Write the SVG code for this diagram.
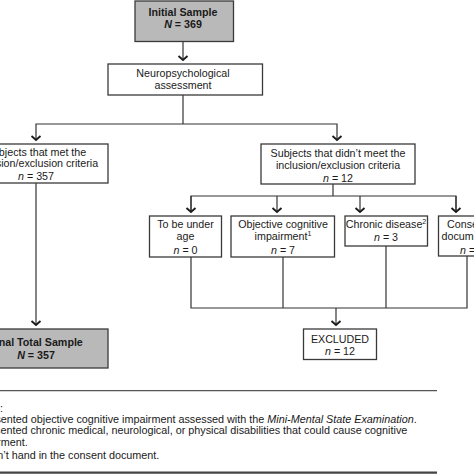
<svg xmlns="http://www.w3.org/2000/svg" width="474" height="474" viewBox="0 0 474 474">
<defs>
<style>
.box{fill:#ffffff;stroke:#3a3a3a;stroke-width:1.3}
.gbox{fill:#b9b9b9;stroke:#3a3a3a;stroke-width:1.3}
.t{font-family:"Liberation Sans",Arial,sans-serif;font-size:10.7px;fill:#1a1a1a;text-anchor:middle}
.b{font-weight:bold}
.fn{font-family:"Liberation Sans",Arial,sans-serif;font-size:10.8px;fill:#1a1a1a;text-anchor:end}
.c{fill:none;stroke:#333333;stroke-width:1.2}
.rule{stroke:#555555;stroke-width:1.3}
</style>
<marker id="arr" markerUnits="userSpaceOnUse" markerWidth="12" markerHeight="12" viewBox="-6 -6 12 12" refX="0" refY="0" orient="auto">
<path d="M-4,-4.5 L0,0 L-4,4.5" fill="none" stroke="#1a1a1a" stroke-width="1.8"/>
</marker>
</defs>

<g id="connectors">
<line class="c" x1="183" y1="41.5" x2="183" y2="60" marker-end="url(#arr)"/>
<polyline class="c" points="183,95 183,124"/>
<polyline class="c" points="183,124 36,124 36,140" marker-end="url(#arr)"/>
<polyline class="c" points="183,124 337,124 337,140" marker-end="url(#arr)"/>
<line class="c" x1="36" y1="183" x2="36" y2="325" marker-end="url(#arr)"/>
<polyline class="c" points="333,184 333,196"/>
<polyline class="c" points="191,212 191,196 456,196 456,212"/>
<line class="c" x1="191" y1="196" x2="191" y2="212" marker-end="url(#arr)"/>
<line class="c" x1="277" y1="196" x2="277" y2="212" marker-end="url(#arr)"/>
<line class="c" x1="360" y1="196" x2="360" y2="212" marker-end="url(#arr)"/>
<line class="c" x1="456" y1="196" x2="456" y2="212" marker-end="url(#arr)"/>
<polyline class="c" points="191,257 191,308 467,308 467,256"/>
<line class="c" x1="283" y1="257" x2="283" y2="308"/>
<line class="c" x1="386" y1="246" x2="386" y2="308"/>
<line class="c" x1="336" y1="308" x2="336" y2="325" marker-end="url(#arr)"/>
</g>

<g id="initial">
<rect class="gbox" x="135" y="1" width="98.5" height="40.5"/>
<text class="t b" x="183" y="15.5">Initial Sample</text>
<text class="t b" x="183" y="27.5"><tspan font-style="italic">N</tspan> = 369</text>
</g>

<g id="neuro">
<rect class="box" x="108" y="64" width="154.5" height="31"/>
<text class="t" x="183" y="77">Neuropsychological</text>
<text class="t" x="183" y="89">assessment</text>
</g>

<g id="met">
<rect class="box" x="-36" y="144" width="144" height="39"/>
<text class="t" x="36" y="155.5">Subjects that met the</text>
<text class="t" x="36" y="166.5">inclusion/exclusion criteria</text>
<text class="t" x="36" y="179.5"><tspan font-style="italic">n</tspan> = 357</text>
</g>

<g id="notmet">
<rect class="box" x="261" y="144" width="154" height="40"/>
<text class="t" x="338" y="157">Subjects that didn’t meet the</text>
<text class="t" x="338" y="168.5">inclusion/exclusion criteria</text>
<text class="t" x="338" y="181.5"><tspan font-style="italic">n</tspan> = 12</text>
</g>

<g id="underage">
<rect class="box" x="149.5" y="216" width="72" height="41"/>
<text class="t" x="185.5" y="227.5">To be under</text>
<text class="t" x="185.5" y="240">age</text>
<text class="t" x="185.5" y="253.5"><tspan font-style="italic">n</tspan> = 0</text>
</g>

<g id="cognitive">
<rect class="box" x="231" y="216" width="103.5" height="41"/>
<text class="t" x="283" y="227.5">Objective cognitive</text>
<text class="t" x="283" y="240">impairment<tspan font-size="7" dy="-4">1</tspan></text>
<text class="t" x="283" y="253.5"><tspan font-style="italic">n</tspan> = 7</text>
</g>

<g id="chronic">
<rect class="box" x="345" y="216" width="82.5" height="30"/>
<text class="t" x="386" y="227.5">Chronic disease<tspan font-size="7" dy="-4">2</tspan></text>
<text class="t" x="386" y="240.5"><tspan font-style="italic">n</tspan> = 3</text>
</g>

<g id="consent">
<rect class="box" x="438.5" y="216" width="72" height="40"/>
<text class="t" x="467" y="227.5">Consent</text>
<text class="t" x="467" y="240">document<tspan font-size="7" dy="-4">3</tspan></text>
<text class="t" x="472" y="253.5"><tspan font-style="italic">n</tspan> = 2</text>
</g>

<g id="excluded">
<rect class="box" x="303.5" y="329" width="73" height="30.5"/>
<text class="t" x="340" y="343">EXCLUDED</text>
<text class="t" x="340" y="355"><tspan font-style="italic">n</tspan> = 12</text>
</g>

<g id="final">
<rect class="gbox" x="-36" y="329" width="144" height="39"/>
<text class="t b" x="36" y="346.3">Final Total Sample</text>
<text class="t b" x="36" y="358.5"><tspan font-style="italic">N</tspan> = 357</text>
</g>

<g id="footnote">
<line class="rule" x1="0" y1="390.7" x2="437" y2="390.7"/>
<text class="fn" x="3" y="412">Note:</text>
<text class="fn" x="416.7" y="423.3"><tspan font-size="7" dy="-4">1</tspan><tspan dy="4">Presented objective cognitive impairment assessed with the </tspan><tspan font-style="italic">Mini-Mental State Examination</tspan>.</text>
<text class="fn" x="407.3" y="434.3"><tspan font-size="7" dy="-4">2</tspan><tspan dy="4">Presented chronic medical, neurological, or physical disabilities that could cause cognitive</tspan></text>
<text class="fn" x="27.7" y="446">impairment.</text>
<text class="fn" x="159.3" y="458.6"><tspan font-size="7" dy="-4">3</tspan><tspan dy="4">Didn’t hand in the consent document.</tspan></text>
<line x1="0" y1="472.7" x2="437" y2="472.7" stroke="#444444" stroke-width="2.2"/>
</g>
</svg>
